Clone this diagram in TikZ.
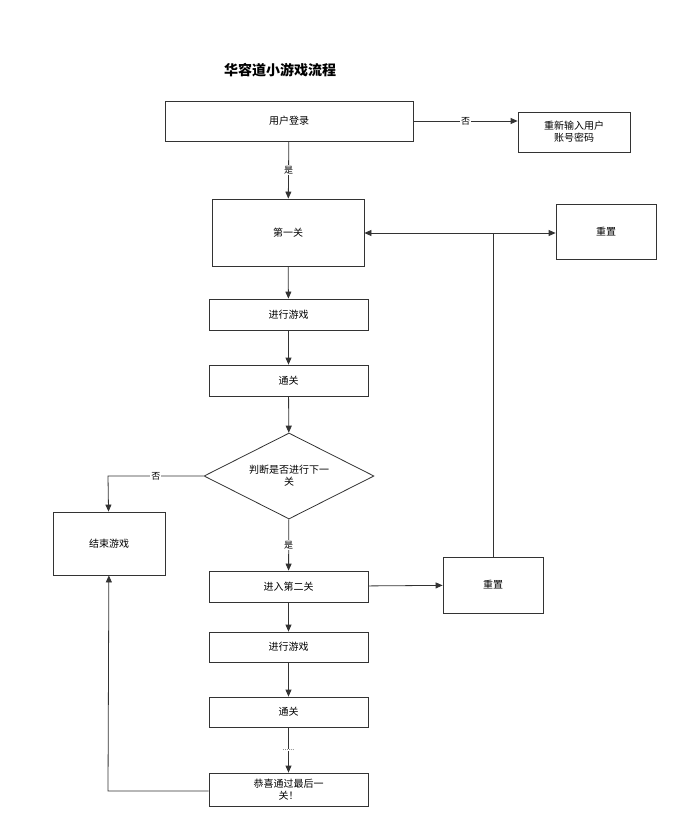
\documentclass[tikz,border=0pt]{standalone}
\usepackage{fontspec}
\setmainfont{Noto Sans CJK SC}
\usetikzlibrary{shapes.geometric,arrows.meta}

\begin{document}
\begin{tikzpicture}[x=1pt, y=-1pt, thick, draw=black!80, >={Triangle[length=7pt,width=6pt]},
    box/.style = {draw=black!80, rectangle, inner sep=1pt, font=\fontsize{10}{12}\selectfont, align=center},
    lbl/.style = {fill=white, inner sep=1pt, font=\fontsize{9}{11}\selectfont}]

    \useasboundingbox (0,0) rectangle (692,835);

    \node[font=\bfseries\fontsize{14}{16}\selectfont] (title) at (280,70) {华容道小游戏流程};

    \node[box, minimum width=248pt, minimum height=40pt] (login) at (289,121) {用户登录};
    \node[box, minimum width=112pt, minimum height=40pt] (retry) at (574,132) {重新输入用户\\账号密码};
    \node[box, minimum width=152pt, minimum height=67pt] (lv1) at (288,232.5) {第一关};
    \node[box, minimum width=100pt, minimum height=55pt] (reset1) at (606,231.5) {重置};
    \node[box, minimum width=159pt, minimum height=31pt] (play1) at (288.5,314.5) {进行游戏};
    \node[box, minimum width=159pt, minimum height=31pt] (pass1) at (288.5,380.5) {通关};
    \node[draw=black!80, diamond, aspect=2, minimum width=170pt, minimum height=86pt, inner sep=0pt,
          font=\fontsize{10}{12}\selectfont, align=center] (judge) at (289,476) {判断是否进行下一\\关};
    \node[box, minimum width=112pt, minimum height=63pt] (quit) at (109,543.5) {结束游戏};
    \node[box, minimum width=159pt, minimum height=31pt] (lv2) at (288.5,586.5) {进入第二关};
    \node[box, minimum width=100pt, minimum height=56pt] (reset2) at (493,585) {重置};
    \node[box, minimum width=159pt, minimum height=30pt] (play2) at (288.5,647) {进行游戏};
    \node[box, minimum width=159pt, minimum height=30pt] (pass2) at (288.5,712) {通关};
    \node[box, minimum width=159pt, minimum height=33pt] (final) at (288.5,789.5) {恭喜通过最后一\\关！};

    \coordinate (up) at (493,233);
    \coordinate (lcorner) at (108,476);
    \coordinate (bcorner) at (108,791);

    \draw[->] (login) -- node[lbl] {否} (retry.west |- login);
    \draw[->] (login) -- node[lbl] {是} (lv1);
    \draw[->] (lv1) -- (play1);
    \draw[->] (play1) -- (pass1);
    \draw[->] (pass1) -- (judge);
    \draw[->] (judge.west) -- node[lbl] {否} (lcorner) -- (quit);
    \draw[->] (judge) -- node[lbl] {是} (lv2);
    \draw[->] (lv2) -- (reset2);
    \draw (reset2) -- (up);
    \draw[->] (up) -- (lv1.east |- up);
    \draw[->] (up) -- (reset1.west |- up);
    \draw[->] (lv2) -- (play2);
    \draw[->] (play2) -- (pass2);
    \draw[->] (pass2) -- node[lbl, font=\fontsize{7}{8}\selectfont] {......} (final);
    \draw[->] (final.west |- bcorner) -- (bcorner) -- (quit);

\end{tikzpicture}
\end{document}
